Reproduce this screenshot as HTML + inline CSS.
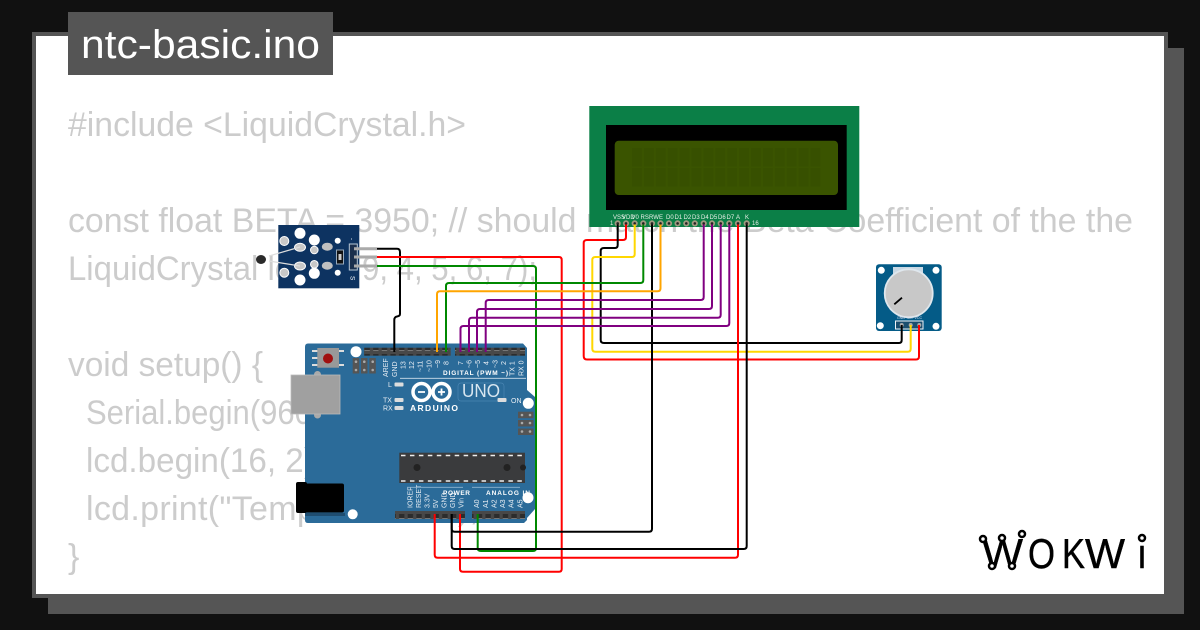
<!DOCTYPE html>
<html><head><meta charset="utf-8"><style>
html,body{margin:0;padding:0;background:#111;width:1200px;height:630px;overflow:hidden}
svg{display:block}
text{font-family:"Liberation Sans",sans-serif}
.c{font-size:34px;fill:#ccc}
.l{font-size:7px;fill:#e8eef4}
.b{font-size:6.5px;fill:#fff;font-weight:bold}
.p{font-size:6px;fill:#e8f0e8}
</style></head><body>
<svg width="1200" height="630" viewBox="0 0 1200 630" xmlns="http://www.w3.org/2000/svg">
<defs>
<pattern id="hd" x="0" y="0" width="8.64" height="8" patternUnits="userSpaceOnUse"><rect width="8.64" height="8" fill="#484848"/><rect x="1.6" y="2" width="5.4" height="4.6" fill="#2c2c2c"/><rect x="1.6" y="6" width="5.4" height="1" fill="#777"/></pattern>
<pattern id="cell" x="632" y="148" width="11.9" height="20" patternUnits="userSpaceOnUse"><rect width="10" height="18.5" fill="#375000"/></pattern>
</defs>
<rect width="1200" height="630" fill="#111"/>
<rect x="48" y="48" width="1136" height="566" fill="#555"/>
<rect x="32" y="32" width="1136" height="566" fill="#555"/>
<rect x="36" y="36" width="1128" height="558" fill="#fff"/>
<rect x="68" y="12" width="265" height="63" fill="#555"/>
<text x="81" y="58" font-size="40" fill="#fff" textLength="239" lengthAdjust="spacingAndGlyphs">ntc-basic.ino</text>

<text class="c" x="68" y="136" textLength="398" lengthAdjust="spacingAndGlyphs">#include &lt;LiquidCrystal.h&gt;</text>
<text class="c" x="68" y="232" textLength="1065" lengthAdjust="spacingAndGlyphs">const float BETA = 3950; // should match the Beta Coefficient of the the</text>
<text class="c" x="68" y="280" textLength="280" lengthAdjust="spacingAndGlyphs">LiquidCrystal lcd(8,</text>
<text class="c" x="362" y="280" textLength="175" lengthAdjust="spacingAndGlyphs">9, 4, 5, 6, 7);</text>
<text class="c" x="68" y="376" textLength="195" lengthAdjust="spacingAndGlyphs">void setup() {</text>
<text class="c" x="86" y="424" textLength="262" lengthAdjust="spacingAndGlyphs">Serial.begin(9600);</text>
<text class="c" x="86" y="472" textLength="238" lengthAdjust="spacingAndGlyphs">lcd.begin(16, 2);</text>
<text class="c" x="86" y="520" letter-spacing="0.3">lcd.print("Temperature: ");</text>
<text class="c" x="68" y="568">}</text>

<!-- LCD -->
<rect x="589.3" y="106" width="270" height="121" fill="#0b7f47"/>
<rect x="606" y="125" width="240.7" height="85" fill="#000"/>
<rect x="614.7" y="140.7" width="223.3" height="54.3" rx="4" fill="#3a5400"/>
<rect x="632" y="148" width="190.4" height="39" fill="url(#cell)"/>
<g>
<text class="p" x="613" y="219">VSS</text><text class="p" x="622" y="219">VDD</text><text class="p" x="631.5" y="219">V0</text><text class="p" x="640.5" y="219">RS</text><text class="p" x="649" y="219">RW</text><text class="p" x="659" y="219">E</text><text class="p" x="666" y="219">D0</text><text class="p" x="674.5" y="219">D1</text><text class="p" x="683.5" y="219">D2</text><text class="p" x="692" y="219">D3</text><text class="p" x="701" y="219">D4</text><text class="p" x="709.5" y="219">D5</text><text class="p" x="718" y="219">D6</text><text class="p" x="726.5" y="219">D7</text><text class="p" x="736" y="219">A</text><text class="p" x="745" y="219">K</text>
<text class="p" x="610" y="225">1</text><text class="p" x="752" y="225">16</text>
</g>
<g fill="#222" stroke="#a09a80" stroke-width="1.8">
<circle cx="617.7" cy="223.4" r="2.2"/><circle cx="626" cy="223.4" r="2.2"/><circle cx="634.7" cy="223.4" r="2.2"/><circle cx="643.3" cy="223.4" r="2.2"/><circle cx="652" cy="223.4" r="2.2"/><circle cx="660.5" cy="223.4" r="2.2"/><circle cx="669" cy="223.4" r="2.2"/><circle cx="677.6" cy="223.4" r="2.2"/><circle cx="686.3" cy="223.4" r="2.2"/><circle cx="694.8" cy="223.4" r="2.2"/><circle cx="703.7" cy="223.4" r="2.2"/><circle cx="712" cy="223.4" r="2.2"/><circle cx="720.7" cy="223.4" r="2.2"/><circle cx="729.3" cy="223.4" r="2.2"/><circle cx="738" cy="223.4" r="2.2"/><circle cx="746.7" cy="223.4" r="2.2"/>
</g>

<!-- Sensor -->
<rect x="278.3" y="225" width="81" height="63.3" fill="#0d3361"/>
<g fill="#fff"><circle cx="300" cy="233.3" r="5.5"/><circle cx="314.3" cy="240" r="5.5"/><circle cx="337.7" cy="240.7" r="3"/><circle cx="314.3" cy="273.3" r="5.5"/><circle cx="300" cy="280" r="5.5"/><circle cx="337.7" cy="272.7" r="3"/></g>
<g fill="#c8c8c8" stroke="#fff" stroke-width="1"><circle cx="284.3" cy="241" r="4.5"/><circle cx="284.3" cy="272.7" r="4.5"/><circle cx="314.3" cy="250" r="3.8"/><circle cx="314.3" cy="264.3" r="3.8"/><ellipse cx="300" cy="247.3" rx="5.5" ry="4"/><ellipse cx="300" cy="266" rx="5.5" ry="4"/></g>
<ellipse cx="327.3" cy="246.7" rx="5.5" ry="4" fill="#c0c0c0"/><ellipse cx="327.3" cy="265.7" rx="5.5" ry="4" fill="#c0c0c0"/>
<rect x="336.5" y="250" width="7" height="14" fill="#111" stroke="#9ab" stroke-width="1"/><rect x="338.5" y="254" width="3" height="6" fill="#ccc"/>
<path d="M269 256 L300 247 M269 261 L300 266" stroke="#ddd" stroke-width="1.2" fill="none"/>
<ellipse cx="261" cy="259.5" rx="5" ry="4.5" fill="#2a2a2a"/>
<rect x="349.3" y="244" width="8" height="26" fill="#1a2f4d" stroke="#b8c8d8" stroke-width="1"/>
<path d="M354 248.7 H377 M354 257 H377 M354 266 H377" stroke="#aaa" stroke-width="3" fill="none"/>
<text x="0" y="0" font-size="6" fill="#fff" transform="translate(350,238) rotate(90)">-</text>
<text x="0" y="0" font-size="6.5" fill="#fff" transform="translate(350.5,276) rotate(90)">S</text>

<!-- Arduino -->
<path d="M308 343.5 H523 L527 348 V390 L535 397 V509 L527 518 V520 L524 523 H308 Q305 523 305 520 V347 Q305 343.5 308 343.5Z" fill="#2b6b99"/>
<rect x="364" y="347.7" width="86.7" height="8" fill="url(#hd)"/>
<rect x="455" y="347.7" width="70" height="8" fill="url(#hd)"/>
<rect x="395" y="511" width="70" height="8" fill="url(#hd)"/>
<rect x="472" y="511" width="53" height="8" fill="url(#hd)"/>
<path d="M312 351 H318 M312 358 H318 M312 365 H318 M338 351 H344 M338 365 H344" stroke="#ddd" stroke-width="2"/>
<rect x="317.3" y="348" width="21.7" height="19.7" fill="#999"/>
<circle cx="328" cy="358.5" r="5" fill="#a01010"/>
<circle cx="356" cy="351.7" r="5.5" fill="#fff"/>
<rect x="352.7" y="358" width="6.5" height="15.5" fill="#555"/><rect x="361" y="358" width="6.5" height="15.5" fill="#555"/><rect x="369.3" y="358" width="6.5" height="15.5" fill="#555"/>
<g fill="#aaa"><circle cx="356" cy="361.7" r="1.3"/><circle cx="364.3" cy="361.7" r="1.3"/><circle cx="372.7" cy="361.7" r="1.3"/><circle cx="356" cy="370" r="1.3"/><circle cx="364.3" cy="370" r="1.3"/><circle cx="372.7" cy="370" r="1.3"/></g>
<circle cx="317.5" cy="374.5" r="3.5" fill="#aaa"/><circle cx="317.5" cy="415" r="3.5" fill="#aaa"/>
<rect x="291" y="375" width="49" height="39" fill="#a0a0a0" stroke="#bbb" stroke-width=".8"/>
<rect x="305" y="513" width="40" height="3" fill="#1f4d70"/>
<rect x="296" y="482" width="11" height="31" rx="2" fill="#000"/>
<rect x="305" y="483.5" width="39" height="29" rx="2" fill="#000"/>
<circle cx="352.7" cy="514.3" r="5" fill="#fff"/>
<circle cx="528.3" cy="403.3" r="5.5" fill="#fff"/>
<circle cx="528" cy="497.7" r="5.5" fill="#fff"/>
<rect x="518" y="411.7" width="15.5" height="6.5" fill="#555"/><rect x="518" y="420" width="15.5" height="6.5" fill="#555"/><rect x="518" y="428.5" width="15.5" height="6.5" fill="#555"/>
<g fill="#aaa"><circle cx="522" cy="415" r="1.3"/><circle cx="530" cy="415" r="1.3"/><circle cx="522" cy="423" r="1.3"/><circle cx="530" cy="423" r="1.3"/><circle cx="522" cy="431.5" r="1.3"/><circle cx="530" cy="431.5" r="1.3"/></g>
<rect x="399.3" y="452.7" width="125.7" height="30.3" fill="#3a3b3d"/>
<path d="M401 455.5 H524 M401 481 H524" stroke="#eee" stroke-width="1.5" stroke-dasharray="4.5 4.45" fill="none"/>
<circle cx="417" cy="467.5" r="3.5" fill="#222"/><circle cx="507" cy="467.5" r="3.5" fill="#222"/><circle cx="523" cy="467.5" r="3" fill="#222"/>
<!-- logo -->
<circle cx="421.5" cy="392" r="8.5" fill="none" stroke="#fff" stroke-width="3.5"/>
<circle cx="441.5" cy="392" r="8.5" fill="none" stroke="#fff" stroke-width="3.5"/>
<path d="M418 392 H425 M438 392 H445 M441.5 388.5 V395.5" stroke="#fff" stroke-width="1.8"/>
<rect x="458" y="383" width="46" height="18" rx="3" fill="none" stroke="#4a86b3" stroke-width=".7"/>
<text x="462" y="397" font-size="18" fill="#d8e6f0" textLength="38" lengthAdjust="spacingAndGlyphs">UNO</text>
<text x="410" y="411" font-size="8.5" font-weight="bold" fill="#fff" textLength="48">ARDUINO</text>
<g fill="#ddd"><rect x="394.5" y="382.5" width="9" height="4" rx="1"/><rect x="394.5" y="398" width="9" height="4" rx="1"/><rect x="394.5" y="406" width="9" height="4" rx="1"/><rect x="497.5" y="398" width="9" height="4" rx="1"/></g>
<text class="l" x="388" y="387">L</text><text class="l" x="383" y="402.5">TX</text><text class="l" x="383" y="410.5">RX</text><text class="l" x="511" y="403">ON</text>
<path d="M400 378.3 H526" stroke="#cfe0ec" stroke-width=".8"/>
<text class="b" x="443" y="375" textLength="65">DIGITAL (PWM ~)</text>
<g text-anchor="start">
<text class="l" transform="translate(388,377) rotate(-90)">AREF</text><text class="l" transform="translate(396.8,377) rotate(-90)">GND</text>
<text class="l" transform="translate(405.4,369) rotate(-90)">13</text><text class="l" transform="translate(414,369) rotate(-90)">12</text><text class="l" transform="translate(422.7,372) rotate(-90)">~11</text><text class="l" transform="translate(431.3,372) rotate(-90)">~10</text><text class="l" transform="translate(440,368) rotate(-90)">~9</text><text class="l" transform="translate(448.5,365) rotate(-90)">8</text>
<text class="l" transform="translate(463,365) rotate(-90)">7</text><text class="l" transform="translate(471.5,368) rotate(-90)">~6</text><text class="l" transform="translate(480,368) rotate(-90)">~5</text><text class="l" transform="translate(488.5,365) rotate(-90)">4</text><text class="l" transform="translate(497.5,368) rotate(-90)">~3</text><text class="l" transform="translate(506,365) rotate(-90)">2</text><text class="l" transform="translate(514.5,376) rotate(-90)">TX 1</text><text class="l" transform="translate(523.3,376) rotate(-90)">RX 0</text>
<text class="l" transform="translate(412.5,508) rotate(-90)">IOREF</text><text class="l" transform="translate(421,508) rotate(-90)">RESET</text><text class="l" transform="translate(429.5,508) rotate(-90)">3.3V</text><text class="l" transform="translate(438,508) rotate(-90)">5V</text><text class="l" transform="translate(446.5,508) rotate(-90)">GND</text><text class="l" transform="translate(455,508) rotate(-90)">GND</text><text class="l" transform="translate(463.5,508) rotate(-90)">Vin</text>
<text class="l" transform="translate(479,508) rotate(-90)">A0</text><text class="l" transform="translate(487.8,508) rotate(-90)">A1</text><text class="l" transform="translate(496.4,508) rotate(-90)">A2</text><text class="l" transform="translate(505,508) rotate(-90)">A3</text><text class="l" transform="translate(513.5,508) rotate(-90)">A4</text><text class="l" transform="translate(522.3,508) rotate(-90)">A5</text>
</g>
<path d="M408 487.3 H463 M472 487.3 H520" stroke="#8fb4cf" stroke-width=".8"/>
<text class="b" x="443" y="495" textLength="27">POWER</text>
<text class="b" x="486" y="495" textLength="44">ANALOG IN</text>

<!-- Pot -->
<rect x="876" y="264.3" width="65.7" height="66.7" rx="3" fill="#045b87"/>
<g fill="#fff"><circle cx="881.3" cy="270.3" r="3.5"/><circle cx="936" cy="270.3" r="3.5"/><circle cx="880.3" cy="325.7" r="3.5"/><circle cx="936" cy="326.3" r="3.5"/></g>
<rect x="893" y="267" width="30" height="9" fill="#c8d8e4"/>
<circle cx="908.7" cy="293.3" r="24" fill="#c8c8c8" stroke="#dfe7ed" stroke-width="1.8"/>
<path d="M894.3 304.3 L902 297.7" stroke="#000" stroke-width="1.8"/>
<rect x="895.5" y="321" width="27.5" height="8" fill="#1b4f6f" stroke="#f0f4f8" stroke-width="1"/>
<g fill="#aaa"><circle cx="901.7" cy="325" r="2"/><circle cx="910.7" cy="325" r="2"/><circle cx="919.3" cy="325" r="2"/></g>
<g font-size="3.6" fill="#dde"><text x="897" y="319">GND</text><text x="906.5" y="319">SIG</text><text x="914.5" y="319">VCC</text></g>

<!-- Wires -->
<g fill="none" stroke-width="2">
<path stroke="#000" d="M377 248.7 H397 Q400 248.7 400 252 V314 Q400 316 397 316.5 Q394.3 317 394.3 320 V352"/>
<path stroke="#f00" d="M377 257 H559 Q561.7 257 561.7 260 V569 Q561.7 571.7 559 571.7 H463 Q460 571.7 460 569 V514"/>
<path stroke="#080" d="M377 266 H533 Q536 266 536 269 V548 Q536 551 533 551 H481 Q477.7 551 477.7 548 V514"/>
<path stroke="#f00" d="M626 224.5 V237 Q626 240 623 240 H587 Q583.7 240 583.7 243 V356 Q583.7 359.5 587 359.5 H916 Q919 359.5 919 356.5 V325"/>
<path stroke="#000" d="M617.7 224.5 V245 Q617.7 248 615 248 H604 Q600.7 248 600.7 251 V340 Q600.7 343 604 343 H899 Q901.7 343 901.7 340 V325"/>
<path stroke="#ffd700" d="M634.7 224.5 V254 Q634.7 257 632 257 H595.5 Q592.3 257 592.3 260 V348.7 Q592.3 351.7 595.5 351.7 H907.7 Q910.7 351.7 910.7 348.7 V325"/>
<path stroke="#080" d="M643.3 224.5 V280 Q643.3 283 640.3 283 H449 Q446 283 446 286 V352"/>
<path stroke="#000" d="M652 224.5 V528.7 Q652 531.7 649 531.7 H454.7 Q451.7 531.7 451.7 528.7 V514"/>
<path stroke="#ffa500" d="M660.5 224.5 V288.3 Q660.5 291.3 657.5 291.3 H440 Q437 291.3 437 294.3 V352"/>
<path stroke="#800080" d="M703.7 224.5 V297 Q703.7 300 700.7 300 H488.7 Q485.7 300 485.7 303 V352"/>
<path stroke="#800080" d="M712 224.5 V306 Q712 309 709 309 H480 Q477 309 477 312 V352"/>
<path stroke="#800080" d="M720.7 224.5 V314.7 Q720.7 317.7 717.7 317.7 H472 Q469 317.7 469 320.7 V352"/>
<path stroke="#800080" d="M729.3 224.5 V323 Q729.3 326 726.3 326 H463.5 Q460.5 326 460.5 329 V352"/>
<path stroke="#f00" d="M738 224.5 V554.7 Q738 557.7 735 557.7 H437.7 Q434.7 557.7 434.7 554.7 V514"/>
<path stroke="#000" d="M746.7 224.5 V546 Q746.7 549 743.7 549 H454.7 Q451.7 549 451.7 546 V514"/>
</g>

<!-- Wokwi wordmark -->
<g fill="#000" stroke="#000" stroke-width="0.4" font-size="42">
<text x="982" y="568" textLength="41" lengthAdjust="spacingAndGlyphs">W</text>
<text x="1028" y="568" textLength="27" lengthAdjust="spacingAndGlyphs">O</text>
<text x="1062" y="568" textLength="23" lengthAdjust="spacingAndGlyphs">K</text>
<text x="1085" y="568" textLength="40" lengthAdjust="spacingAndGlyphs">W</text>
<text x="1137" y="568" textLength="10" lengthAdjust="spacingAndGlyphs">ı</text>
</g>
<g fill="#fff" stroke="#000" stroke-width="2.5"><circle cx="983" cy="539" r="3"/><circle cx="1002" cy="538" r="3"/><circle cx="1022" cy="534" r="3"/><circle cx="992" cy="566" r="3"/><circle cx="1012" cy="566" r="3"/><circle cx="1142" cy="538" r="3"/></g>
</svg>
</body></html>
